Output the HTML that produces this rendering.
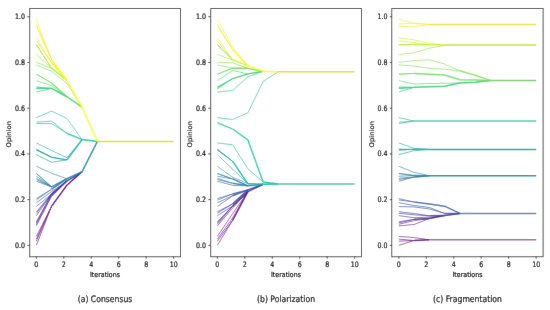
<!DOCTYPE html>
<html><head><meta charset="utf-8"><title>Opinion dynamics: consensus, polarization, fragmentation</title>
<style>
html,body{margin:0;padding:0;background:#fff;width:550px;height:310px;overflow:hidden}
svg{text-rendering:geometricPrecision;display:block}
.t{font-family:"DejaVu Sans","Liberation Sans",sans-serif;font-size:6.3px;fill:#000;stroke:#000;stroke-width:0.18px}
.cap{font-family:"DejaVu Sans","Liberation Sans",sans-serif;font-size:7.7px;fill:#000;stroke:#000;stroke-width:0.18px}
</style></head><body>
<svg width="550" height="310" viewBox="0 0 550 310">
<defs><filter id="sm" filterUnits="userSpaceOnUse" x="0" y="0" width="550" height="310"><feConvolveMatrix order="3" kernelMatrix="0 1 0 1 16 1 0 1 0" edgeMode="duplicate" preserveAlpha="false"/></filter></defs>
<rect width="550" height="310" fill="#fff"/>
<g filter="url(#sm)">
<rect width="550" height="310" fill="#fff"/>
<clipPath id="c0"><rect x="29.5" y="8.3" width="151.0" height="248.2"/></clipPath>
<g clip-path="url(#c0)" fill="none" stroke-width="1.0" stroke-linejoin="round" stroke-linecap="butt">
<polyline points="36.36,245.32 51.62,206.09" stroke="#60006a" stroke-opacity="0.60"/>
<polyline points="36.36,241.17 51.62,206.09" stroke="#640078" stroke-opacity="0.60"/>
<polyline points="36.36,239.09 51.62,206.09" stroke="#650285" stroke-opacity="0.60"/>
<polyline points="36.36,236.42 51.62,206.09" stroke="#610a89" stroke-opacity="0.60"/>
<polyline points="51.62,206.09 66.87,185.21 82.12,171.64" stroke="#600489" stroke-opacity="0.95" stroke-width="1.5"/>
<polyline points="36.36,225.91 51.62,195.82" stroke="#5e118e" stroke-opacity="0.60"/>
<polyline points="36.36,224.24 51.62,195.82" stroke="#591a93" stroke-opacity="0.60"/>
<polyline points="51.62,195.82 66.87,181.02" stroke="#561a94" stroke-opacity="0.84" stroke-width="1.5"/>
<polyline points="36.36,222.87 51.62,193.93" stroke="#552196" stroke-opacity="0.60"/>
<polyline points="36.36,221.75 51.62,193.93" stroke="#4e2798" stroke-opacity="0.60"/>
<polyline points="36.36,215.63 51.62,193.93" stroke="#472e98" stroke-opacity="0.60"/>
<polyline points="36.36,213.26 51.62,193.93" stroke="#3f3598" stroke-opacity="0.60"/>
<polyline points="36.36,211.80 51.62,193.93" stroke="#353898" stroke-opacity="0.60"/>
<polyline points="36.36,206.53 51.62,193.93" stroke="#324199" stroke-opacity="0.60"/>
<polyline points="51.62,193.93 66.87,181.02" stroke="#403fa0" stroke-opacity="0.95" stroke-width="1.5"/>
<polyline points="36.36,202.77 51.62,191.50 66.87,181.02" stroke="#2e4999" stroke-opacity="0.60"/>
<polyline points="66.87,181.02 82.12,171.64" stroke="#3d46a2" stroke-opacity="0.95" stroke-width="1.5"/>
<polyline points="36.36,200.06 51.62,189.19" stroke="#2b519a" stroke-opacity="0.60"/>
<polyline points="36.36,198.61 51.62,189.19" stroke="#275a9c" stroke-opacity="0.60"/>
<polyline points="51.62,189.19 66.87,178.76" stroke="#3360aa" stroke-opacity="0.84" stroke-width="1.5"/>
<polyline points="36.36,181.24 51.62,186.89" stroke="#24619d" stroke-opacity="0.60"/>
<polyline points="36.36,179.56 51.62,186.89" stroke="#21689e" stroke-opacity="0.60"/>
<polyline points="36.36,178.23 51.62,186.89" stroke="#1f6f9f" stroke-opacity="0.60"/>
<polyline points="36.36,176.24 51.62,186.89" stroke="#1c779f" stroke-opacity="0.60"/>
<polyline points="36.36,173.70 51.62,186.89" stroke="#197ea0" stroke-opacity="0.60"/>
<polyline points="36.36,173.22 51.62,186.89" stroke="#1785a0" stroke-opacity="0.60"/>
<polyline points="51.62,186.89 66.87,178.76" stroke="#2588b0" stroke-opacity="0.95" stroke-width="1.5"/>
<polyline points="36.36,166.35 51.62,173.25 66.87,178.76" stroke="#158ba0" stroke-opacity="0.60"/>
<polyline points="66.87,178.76 82.12,171.64" stroke="#238eb0" stroke-opacity="0.95" stroke-width="1.5"/>
<polyline points="82.12,171.64 97.37,141.39" stroke="#238db0" stroke-opacity="0.95" stroke-width="1.5"/>
<polyline points="36.36,154.65 51.62,162.29 66.87,159.87" stroke="#1392a0" stroke-opacity="0.60"/>
<polyline points="36.36,150.02 51.62,157.25" stroke="#119aa0" stroke-opacity="0.60"/>
<polyline points="36.36,149.95 51.62,157.25" stroke="#0ea1a0" stroke-opacity="0.60"/>
<polyline points="36.36,149.52 51.62,157.25" stroke="#0ca69e" stroke-opacity="0.60"/>
<polyline points="36.36,149.08 51.62,157.25" stroke="#0aac9c" stroke-opacity="0.60"/>
<polyline points="51.62,157.25 66.87,159.87" stroke="#15b7b0" stroke-opacity="0.95" stroke-width="1.5"/>
<polyline points="66.87,159.87 82.12,139.61" stroke="#16b5b0" stroke-opacity="0.95" stroke-width="1.5"/>
<polyline points="36.36,142.96 51.62,150.55 66.87,157.66 82.12,139.61" stroke="#08b398" stroke-opacity="0.60"/>
<polyline points="36.36,123.47 51.62,123.57 66.87,133.21" stroke="#08b895" stroke-opacity="0.60"/>
<polyline points="36.36,122.18 51.62,121.10 66.87,133.21" stroke="#0abd91" stroke-opacity="0.60"/>
<polyline points="66.87,133.21 82.12,139.61" stroke="#11cba2" stroke-opacity="0.84" stroke-width="1.5"/>
<polyline points="36.36,117.63 51.62,111.09 66.87,118.41 82.12,139.61" stroke="#0dc28c" stroke-opacity="0.60"/>
<polyline points="82.12,139.61 97.37,141.39" stroke="#14c9a1" stroke-opacity="0.95" stroke-width="1.5"/>
<polyline points="36.36,92.08 51.62,88.36" stroke="#12c786" stroke-opacity="0.60"/>
<polyline points="36.36,88.71 51.62,88.36" stroke="#1acc7e" stroke-opacity="0.60"/>
<polyline points="36.36,88.42 51.62,88.36" stroke="#22d076" stroke-opacity="0.60"/>
<polyline points="36.36,87.19 51.62,88.36" stroke="#2bd36e" stroke-opacity="0.60"/>
<polyline points="36.36,87.09 51.62,88.36" stroke="#35d665" stroke-opacity="0.60"/>
<polyline points="51.62,88.36 66.87,96.72" stroke="#3ad37d" stroke-opacity="0.95" stroke-width="1.5"/>
<polyline points="36.36,80.68 51.62,85.57 66.87,96.72" stroke="#42da59" stroke-opacity="0.60"/>
<polyline points="36.36,74.32 51.62,83.01" stroke="#4edc4e" stroke-opacity="0.60"/>
<polyline points="36.36,73.87 51.62,83.01" stroke="#5fe048" stroke-opacity="0.60"/>
<polyline points="51.62,83.01 66.87,96.72" stroke="#66dc5e" stroke-opacity="0.84" stroke-width="1.5"/>
<polyline points="66.87,96.72 82.12,107.21" stroke="#5ad867" stroke-opacity="0.95" stroke-width="1.5"/>
<polyline points="36.36,64.92 51.62,71.42 66.87,83.34 82.12,107.21" stroke="#70e341" stroke-opacity="0.60"/>
<polyline points="36.36,62.30 51.62,68.17" stroke="#81e639" stroke-opacity="0.60"/>
<polyline points="36.36,54.55 51.62,68.17" stroke="#94e930" stroke-opacity="0.60"/>
<polyline points="36.36,45.01 51.62,68.17" stroke="#a4ea29" stroke-opacity="0.60"/>
<polyline points="36.36,44.61 51.62,68.17" stroke="#b4eb22" stroke-opacity="0.60"/>
<polyline points="36.36,44.61 51.62,68.17" stroke="#c2eb1b" stroke-opacity="0.60"/>
<polyline points="51.62,68.17 66.87,80.29" stroke="#b4f132" stroke-opacity="0.95" stroke-width="1.5"/>
<polyline points="36.36,40.84 51.62,62.71" stroke="#d3ec14" stroke-opacity="0.60"/>
<polyline points="36.36,37.65 51.62,62.71" stroke="#dfeb11" stroke-opacity="0.60"/>
<polyline points="51.62,62.71 66.87,80.29" stroke="#e6fb17" stroke-opacity="0.84" stroke-width="1.5"/>
<polyline points="36.36,26.38 51.62,59.82" stroke="#eaea13" stroke-opacity="0.60"/>
<polyline points="36.36,24.01 51.62,59.82" stroke="#f4e81a" stroke-opacity="0.60"/>
<polyline points="36.36,19.30 51.62,59.82" stroke="#fde725" stroke-opacity="0.60"/>
<polyline points="51.62,59.82 66.87,80.29" stroke="#fff422" stroke-opacity="0.94" stroke-width="1.5"/>
<polyline points="66.87,80.29 82.12,107.21" stroke="#fffc1d" stroke-opacity="0.95" stroke-width="1.5"/>
<polyline points="82.12,107.21 97.37,141.39" stroke="#fefc1d" stroke-opacity="0.95" stroke-width="1.5"/>
<polyline points="97.37,141.39 112.63,141.39 127.88,141.39 143.13,141.39 158.38,141.39 173.64,141.39" stroke="#d7e11c" stroke-opacity="0.95" stroke-width="1.5"/>
</g>
<rect x="29.75" y="8.5" width="150.8" height="248.29999999999998" fill="none" stroke="#2a2a2a" stroke-width="0.8"/>
<line x1="36.36" y1="256.5" x2="36.36" y2="258.7" stroke="#2a2a2a" stroke-width="0.8"/>
<text transform="translate(36.36,267.10) scale(1,1.2)" text-anchor="middle" class="t">0</text>
<line x1="63.82" y1="256.5" x2="63.82" y2="258.7" stroke="#2a2a2a" stroke-width="0.8"/>
<text transform="translate(63.82,267.10) scale(1,1.2)" text-anchor="middle" class="t">2</text>
<line x1="91.27" y1="256.5" x2="91.27" y2="258.7" stroke="#2a2a2a" stroke-width="0.8"/>
<text transform="translate(91.27,267.10) scale(1,1.2)" text-anchor="middle" class="t">4</text>
<line x1="118.73" y1="256.5" x2="118.73" y2="258.7" stroke="#2a2a2a" stroke-width="0.8"/>
<text transform="translate(118.73,267.10) scale(1,1.2)" text-anchor="middle" class="t">6</text>
<line x1="146.18" y1="256.5" x2="146.18" y2="258.7" stroke="#2a2a2a" stroke-width="0.8"/>
<text transform="translate(146.18,267.10) scale(1,1.2)" text-anchor="middle" class="t">8</text>
<line x1="173.64" y1="256.5" x2="173.64" y2="258.7" stroke="#2a2a2a" stroke-width="0.8"/>
<text transform="translate(173.64,267.10) scale(1,1.2)" text-anchor="middle" class="t">10</text>
<line x1="27.3" y1="245.35" x2="29.5" y2="245.35" stroke="#2a2a2a" stroke-width="0.8"/>
<text transform="translate(24.90,247.80) scale(1,1.2)" text-anchor="end" class="t">0.0</text>
<line x1="27.3" y1="199.63" x2="29.5" y2="199.63" stroke="#2a2a2a" stroke-width="0.8"/>
<text transform="translate(24.90,202.08) scale(1,1.2)" text-anchor="end" class="t">0.2</text>
<line x1="27.3" y1="153.91" x2="29.5" y2="153.91" stroke="#2a2a2a" stroke-width="0.8"/>
<text transform="translate(24.90,156.36) scale(1,1.2)" text-anchor="end" class="t">0.4</text>
<line x1="27.3" y1="108.19" x2="29.5" y2="108.19" stroke="#2a2a2a" stroke-width="0.8"/>
<text transform="translate(24.90,110.64) scale(1,1.2)" text-anchor="end" class="t">0.6</text>
<line x1="27.3" y1="62.47" x2="29.5" y2="62.47" stroke="#2a2a2a" stroke-width="0.8"/>
<text transform="translate(24.90,64.92) scale(1,1.2)" text-anchor="end" class="t">0.8</text>
<line x1="27.3" y1="16.75" x2="29.5" y2="16.75" stroke="#2a2a2a" stroke-width="0.8"/>
<text transform="translate(24.90,19.20) scale(1,1.2)" text-anchor="end" class="t">1.0</text>
<text transform="translate(105.00,276.70) scale(1,1.12)" text-anchor="middle" class="t">Iterations</text>
<text transform="translate(11.20,134.20) scale(1,1.09) rotate(-90)" text-anchor="middle" class="t">Opinion</text>
<text transform="translate(105.00,302.40) scale(1,1.15)" text-anchor="middle" class="cap">(a) Consensus</text>
<clipPath id="c1"><rect x="210.5" y="8.3" width="151.0" height="248.2"/></clipPath>
<g clip-path="url(#c1)" fill="none" stroke-width="1.0" stroke-linejoin="round" stroke-linecap="butt">
<polyline points="217.36,245.32 232.62,220.36" stroke="#60006a" stroke-opacity="0.60"/>
<polyline points="217.36,241.17 232.62,220.36" stroke="#640078" stroke-opacity="0.60"/>
<polyline points="232.62,220.36 247.87,191.57" stroke="#61007c" stroke-opacity="0.84" stroke-width="1.5"/>
<polyline points="217.36,239.09 232.62,217.92 247.87,191.57" stroke="#650285" stroke-opacity="0.60"/>
<polyline points="217.36,236.42 232.62,213.58 247.87,191.57" stroke="#610a89" stroke-opacity="0.60"/>
<polyline points="217.36,225.91 232.62,207.98 247.87,191.57" stroke="#5e118e" stroke-opacity="0.60"/>
<polyline points="217.36,224.24 232.62,206.09" stroke="#591a93" stroke-opacity="0.60"/>
<polyline points="217.36,222.87 232.62,206.09" stroke="#552196" stroke-opacity="0.60"/>
<polyline points="217.36,221.75 232.62,206.09" stroke="#4e2798" stroke-opacity="0.60"/>
<polyline points="217.36,215.63 232.62,206.09" stroke="#472e98" stroke-opacity="0.60"/>
<polyline points="232.62,206.09 247.87,191.57" stroke="#4d2c9b" stroke-opacity="0.95" stroke-width="1.5"/>
<polyline points="247.87,191.57 263.12,184.31" stroke="#4e2899" stroke-opacity="0.95" stroke-width="1.5"/>
<polyline points="217.36,213.26 232.62,203.85" stroke="#3f3598" stroke-opacity="0.60"/>
<polyline points="217.36,211.80 232.62,203.85" stroke="#353898" stroke-opacity="0.60"/>
<polyline points="232.62,203.85 247.87,189.89" stroke="#403fa1" stroke-opacity="0.84" stroke-width="1.5"/>
<polyline points="217.36,206.53 232.62,195.82" stroke="#324199" stroke-opacity="0.60"/>
<polyline points="217.36,202.77 232.62,195.82" stroke="#2e4999" stroke-opacity="0.60"/>
<polyline points="232.62,195.82 247.87,189.89" stroke="#3a4fa6" stroke-opacity="0.84" stroke-width="1.5"/>
<polyline points="217.36,200.06 232.62,193.93" stroke="#2b519a" stroke-opacity="0.60"/>
<polyline points="217.36,198.61 232.62,193.93" stroke="#275a9c" stroke-opacity="0.60"/>
<polyline points="232.62,193.93 247.87,189.89" stroke="#3360aa" stroke-opacity="0.84" stroke-width="1.5"/>
<polyline points="247.87,189.89 263.12,184.31" stroke="#3758a8" stroke-opacity="0.95" stroke-width="1.5"/>
<polyline points="217.36,181.24 232.62,185.33 247.87,185.84" stroke="#24619d" stroke-opacity="0.60"/>
<polyline points="217.36,179.56 232.62,183.34" stroke="#21689e" stroke-opacity="0.60"/>
<polyline points="217.36,178.23 232.62,183.34" stroke="#1f6f9f" stroke-opacity="0.60"/>
<polyline points="232.62,183.34 247.87,185.84" stroke="#2a78ae" stroke-opacity="0.84" stroke-width="1.5"/>
<polyline points="217.36,176.24 232.62,178.94" stroke="#1c779f" stroke-opacity="0.60"/>
<polyline points="217.36,173.70 232.62,178.94" stroke="#197ea0" stroke-opacity="0.60"/>
<polyline points="217.36,173.22 232.62,178.94" stroke="#1785a0" stroke-opacity="0.60"/>
<polyline points="232.62,178.94 247.87,185.84" stroke="#238cb0" stroke-opacity="0.94" stroke-width="1.5"/>
<polyline points="247.87,185.84 263.12,184.31" stroke="#2588b0" stroke-opacity="0.95" stroke-width="1.5"/>
<polyline points="217.36,166.35 232.62,177.14 247.87,183.70" stroke="#158ba0" stroke-opacity="0.60"/>
<polyline points="217.36,154.65 232.62,169.14 247.87,183.70" stroke="#1392a0" stroke-opacity="0.60"/>
<polyline points="217.36,150.02 232.62,161.34" stroke="#119aa0" stroke-opacity="0.60"/>
<polyline points="217.36,149.95 232.62,161.34" stroke="#0ea1a0" stroke-opacity="0.60"/>
<polyline points="217.36,149.52 232.62,161.34" stroke="#0ca69e" stroke-opacity="0.60"/>
<polyline points="217.36,149.08 232.62,161.34" stroke="#0aac9c" stroke-opacity="0.60"/>
<polyline points="232.62,161.34 247.87,183.70" stroke="#15b7b0" stroke-opacity="0.95" stroke-width="1.5"/>
<polyline points="247.87,183.70 263.12,184.31" stroke="#16b5b0" stroke-opacity="0.95" stroke-width="1.5"/>
<polyline points="263.12,184.31 278.37,184.08" stroke="#17b3b1" stroke-opacity="0.95" stroke-width="1.5"/>
<polyline points="217.36,142.96 232.62,144.79 247.87,168.72 263.12,182.00" stroke="#08b398" stroke-opacity="0.60"/>
<polyline points="217.36,123.47 232.62,129.01" stroke="#08b895" stroke-opacity="0.60"/>
<polyline points="217.36,122.18 232.62,129.01" stroke="#0abd91" stroke-opacity="0.60"/>
<polyline points="232.62,129.01 247.87,139.93 263.12,182.00" stroke="#11cba2" stroke-opacity="0.84" stroke-width="1.5"/>
<polyline points="263.12,182.00 278.37,184.08" stroke="#11c9a4" stroke-opacity="0.94" stroke-width="1.5"/>
<polyline points="278.37,184.08 293.63,184.08 308.88,184.08 324.13,184.08 339.38,184.08 354.64,184.08" stroke="#46c3af" stroke-opacity="0.95" stroke-width="1.5"/>
<polyline points="217.36,117.63 232.62,119.50 247.87,112.84 263.12,81.41 278.37,71.70" stroke="#0dc28c" stroke-opacity="0.60"/>
<polyline points="217.36,92.08 232.62,90.49 247.87,76.96 263.12,71.19" stroke="#12c786" stroke-opacity="0.60"/>
<polyline points="217.36,88.71 232.62,78.65" stroke="#1acc7e" stroke-opacity="0.60"/>
<polyline points="217.36,88.42 232.62,78.65" stroke="#22d076" stroke-opacity="0.60"/>
<polyline points="217.36,87.19 232.62,78.65" stroke="#2bd36e" stroke-opacity="0.60"/>
<polyline points="217.36,87.09 232.62,78.65" stroke="#35d665" stroke-opacity="0.60"/>
<polyline points="232.62,78.65 247.87,73.88" stroke="#3cd37c" stroke-opacity="0.95" stroke-width="1.5"/>
<polyline points="217.36,80.68 232.62,70.50 247.87,73.88" stroke="#42da59" stroke-opacity="0.60"/>
<polyline points="247.87,73.88 263.12,71.19" stroke="#47d276" stroke-opacity="0.95" stroke-width="1.5"/>
<polyline points="217.36,74.32 232.62,68.17" stroke="#4edc4e" stroke-opacity="0.60"/>
<polyline points="217.36,73.87 232.62,68.17" stroke="#5fe048" stroke-opacity="0.60"/>
<polyline points="217.36,64.92 232.62,68.17" stroke="#70e341" stroke-opacity="0.60"/>
<polyline points="232.62,68.17 247.87,68.37" stroke="#6dde5a" stroke-opacity="0.94" stroke-width="1.5"/>
<polyline points="217.36,62.30 232.62,62.71 247.87,68.37" stroke="#81e639" stroke-opacity="0.60"/>
<polyline points="247.87,68.37 263.12,71.19" stroke="#78e154" stroke-opacity="0.95" stroke-width="1.5"/>
<polyline points="217.36,54.55 232.62,59.82" stroke="#94e930" stroke-opacity="0.60"/>
<polyline points="217.36,45.01 232.62,59.82" stroke="#a4ea29" stroke-opacity="0.60"/>
<polyline points="217.36,44.61 232.62,59.82" stroke="#b4eb22" stroke-opacity="0.60"/>
<polyline points="217.36,44.61 232.62,59.82" stroke="#c2eb1b" stroke-opacity="0.60"/>
<polyline points="217.36,40.84 232.62,59.82" stroke="#d3ec14" stroke-opacity="0.60"/>
<polyline points="217.36,37.65 232.62,59.82" stroke="#dfeb11" stroke-opacity="0.60"/>
<polyline points="232.62,59.82 247.87,65.68" stroke="#d4f722" stroke-opacity="0.95" stroke-width="1.5"/>
<polyline points="217.36,26.38 232.62,49.50" stroke="#eaea13" stroke-opacity="0.60"/>
<polyline points="217.36,24.01 232.62,49.50" stroke="#f4e81a" stroke-opacity="0.60"/>
<polyline points="232.62,49.50 247.87,65.68" stroke="#fffa18" stroke-opacity="0.84" stroke-width="1.5"/>
<polyline points="217.36,19.30 232.62,47.10 247.87,65.68" stroke="#fde725" stroke-opacity="0.60"/>
<polyline points="247.87,65.68 263.12,71.19" stroke="#fffc1c" stroke-opacity="0.95" stroke-width="1.5"/>
<polyline points="263.12,71.19 278.37,71.70" stroke="#fefc1d" stroke-opacity="0.95" stroke-width="1.5"/>
<polyline points="278.37,71.70 293.63,71.70 308.88,71.70 324.13,71.70 339.38,71.70 354.64,71.70" stroke="#dae223" stroke-opacity="0.95" stroke-width="1.5"/>
</g>
<rect x="210.75" y="8.5" width="150.8" height="248.29999999999998" fill="none" stroke="#2a2a2a" stroke-width="0.8"/>
<line x1="217.36" y1="256.5" x2="217.36" y2="258.7" stroke="#2a2a2a" stroke-width="0.8"/>
<text transform="translate(217.36,267.10) scale(1,1.2)" text-anchor="middle" class="t">0</text>
<line x1="244.82" y1="256.5" x2="244.82" y2="258.7" stroke="#2a2a2a" stroke-width="0.8"/>
<text transform="translate(244.82,267.10) scale(1,1.2)" text-anchor="middle" class="t">2</text>
<line x1="272.27" y1="256.5" x2="272.27" y2="258.7" stroke="#2a2a2a" stroke-width="0.8"/>
<text transform="translate(272.27,267.10) scale(1,1.2)" text-anchor="middle" class="t">4</text>
<line x1="299.73" y1="256.5" x2="299.73" y2="258.7" stroke="#2a2a2a" stroke-width="0.8"/>
<text transform="translate(299.73,267.10) scale(1,1.2)" text-anchor="middle" class="t">6</text>
<line x1="327.18" y1="256.5" x2="327.18" y2="258.7" stroke="#2a2a2a" stroke-width="0.8"/>
<text transform="translate(327.18,267.10) scale(1,1.2)" text-anchor="middle" class="t">8</text>
<line x1="354.64" y1="256.5" x2="354.64" y2="258.7" stroke="#2a2a2a" stroke-width="0.8"/>
<text transform="translate(354.64,267.10) scale(1,1.2)" text-anchor="middle" class="t">10</text>
<line x1="208.3" y1="245.35" x2="210.5" y2="245.35" stroke="#2a2a2a" stroke-width="0.8"/>
<text transform="translate(205.90,247.80) scale(1,1.2)" text-anchor="end" class="t">0.0</text>
<line x1="208.3" y1="199.63" x2="210.5" y2="199.63" stroke="#2a2a2a" stroke-width="0.8"/>
<text transform="translate(205.90,202.08) scale(1,1.2)" text-anchor="end" class="t">0.2</text>
<line x1="208.3" y1="153.91" x2="210.5" y2="153.91" stroke="#2a2a2a" stroke-width="0.8"/>
<text transform="translate(205.90,156.36) scale(1,1.2)" text-anchor="end" class="t">0.4</text>
<line x1="208.3" y1="108.19" x2="210.5" y2="108.19" stroke="#2a2a2a" stroke-width="0.8"/>
<text transform="translate(205.90,110.64) scale(1,1.2)" text-anchor="end" class="t">0.6</text>
<line x1="208.3" y1="62.47" x2="210.5" y2="62.47" stroke="#2a2a2a" stroke-width="0.8"/>
<text transform="translate(205.90,64.92) scale(1,1.2)" text-anchor="end" class="t">0.8</text>
<line x1="208.3" y1="16.75" x2="210.5" y2="16.75" stroke="#2a2a2a" stroke-width="0.8"/>
<text transform="translate(205.90,19.20) scale(1,1.2)" text-anchor="end" class="t">1.0</text>
<text transform="translate(286.00,276.70) scale(1,1.12)" text-anchor="middle" class="t">Iterations</text>
<text transform="translate(192.20,134.20) scale(1,1.09) rotate(-90)" text-anchor="middle" class="t">Opinion</text>
<text transform="translate(286.00,302.40) scale(1,1.15)" text-anchor="middle" class="cap">(b) Polarization</text>
<clipPath id="c2"><rect x="392.0" y="8.3" width="151.0" height="248.2"/></clipPath>
<g clip-path="url(#c2)" fill="none" stroke-width="1.0" stroke-linejoin="round" stroke-linecap="butt">
<polyline points="398.86,245.32 414.12,240.50" stroke="#60006a" stroke-opacity="0.60"/>
<polyline points="398.86,241.17 414.12,240.50" stroke="#640078" stroke-opacity="0.60"/>
<polyline points="398.86,239.09 414.12,240.50" stroke="#650285" stroke-opacity="0.60"/>
<polyline points="414.12,240.50 429.37,239.77" stroke="#620084" stroke-opacity="0.94" stroke-width="1.5"/>
<polyline points="398.86,236.42 414.12,237.58 429.37,239.77" stroke="#610a89" stroke-opacity="0.60"/>
<polyline points="429.37,239.77 444.62,239.77 459.87,239.77 475.13,239.77 490.38,239.77 505.63,239.77 520.88,239.77 536.14,239.77" stroke="#9664aa" stroke-opacity="0.95" stroke-width="1.5"/>
<polyline points="398.86,225.91 414.12,224.47 429.37,218.56" stroke="#5e118e" stroke-opacity="0.60"/>
<polyline points="398.86,224.24 414.12,220.61 429.37,218.56" stroke="#591a93" stroke-opacity="0.60"/>
<polyline points="398.86,222.87 414.12,219.35" stroke="#552196" stroke-opacity="0.60"/>
<polyline points="398.86,221.75 414.12,219.35" stroke="#4e2798" stroke-opacity="0.60"/>
<polyline points="414.12,219.35 429.37,218.56" stroke="#4e2a9b" stroke-opacity="0.84" stroke-width="1.5"/>
<polyline points="429.37,218.56 444.62,215.49" stroke="#512498" stroke-opacity="0.95" stroke-width="1.5"/>
<polyline points="398.86,215.63 414.12,217.75 429.37,217.11 444.62,215.49" stroke="#472e98" stroke-opacity="0.60"/>
<polyline points="398.86,213.26 414.12,214.86 429.37,215.82" stroke="#3f3598" stroke-opacity="0.60"/>
<polyline points="398.86,211.80 414.12,213.51 429.37,215.82" stroke="#353898" stroke-opacity="0.60"/>
<polyline points="429.37,215.82 444.62,215.49" stroke="#403fa1" stroke-opacity="0.84" stroke-width="1.5"/>
<polyline points="444.62,215.49 459.87,213.41" stroke="#45389e" stroke-opacity="0.95" stroke-width="1.5"/>
<polyline points="398.86,206.53 414.12,206.95 429.37,208.94 444.62,213.42" stroke="#324199" stroke-opacity="0.60"/>
<polyline points="398.86,202.77 414.12,205.51 429.37,207.47 444.62,213.42" stroke="#2e4999" stroke-opacity="0.60"/>
<polyline points="444.62,213.42 459.87,213.41" stroke="#3a4fa6" stroke-opacity="0.84" stroke-width="1.5"/>
<polyline points="398.86,200.06 414.12,201.99" stroke="#2b519a" stroke-opacity="0.60"/>
<polyline points="398.86,198.61 414.12,201.99" stroke="#275a9c" stroke-opacity="0.60"/>
<polyline points="414.12,201.99 429.37,204.11 444.62,206.16 459.87,213.41" stroke="#3360aa" stroke-opacity="0.84" stroke-width="1.5"/>
<polyline points="459.87,213.41 475.13,213.41 490.38,213.41 505.63,213.41 520.88,213.41 536.14,213.41" stroke="#5a82b9" stroke-opacity="0.95" stroke-width="1.5"/>
<polyline points="398.86,181.24 414.12,177.03" stroke="#24619d" stroke-opacity="0.60"/>
<polyline points="398.86,179.56 414.12,177.03" stroke="#21689e" stroke-opacity="0.60"/>
<polyline points="398.86,178.23 414.12,177.03" stroke="#1f6f9f" stroke-opacity="0.60"/>
<polyline points="414.12,177.03 429.37,175.71" stroke="#2b75ad" stroke-opacity="0.94" stroke-width="1.5"/>
<polyline points="398.86,176.24 414.12,175.51" stroke="#1c779f" stroke-opacity="0.60"/>
<polyline points="398.86,173.70 414.12,175.51" stroke="#197ea0" stroke-opacity="0.60"/>
<polyline points="398.86,173.22 414.12,175.51" stroke="#1785a0" stroke-opacity="0.60"/>
<polyline points="414.12,175.51 429.37,175.71" stroke="#238cb0" stroke-opacity="0.94" stroke-width="1.5"/>
<polyline points="398.86,166.35 414.12,172.38 429.37,175.71" stroke="#158ba0" stroke-opacity="0.60"/>
<polyline points="429.37,175.71 444.62,175.71 459.87,175.71 475.13,175.71 490.38,175.71 505.63,175.71 520.88,175.71 536.14,175.71" stroke="#198c9b" stroke-opacity="0.95" stroke-width="1.5"/>
<polyline points="398.86,154.65 414.12,150.65 429.37,149.40" stroke="#1392a0" stroke-opacity="0.60"/>
<polyline points="398.86,150.02 414.12,149.37" stroke="#119aa0" stroke-opacity="0.60"/>
<polyline points="398.86,149.95 414.12,149.37" stroke="#0ea1a0" stroke-opacity="0.60"/>
<polyline points="398.86,149.52 414.12,149.37" stroke="#0ca69e" stroke-opacity="0.60"/>
<polyline points="398.86,149.08 414.12,149.37" stroke="#0aac9c" stroke-opacity="0.60"/>
<polyline points="414.12,149.37 429.37,149.40" stroke="#15b7b0" stroke-opacity="0.95" stroke-width="1.5"/>
<polyline points="398.86,142.96 414.12,148.31 429.37,149.40" stroke="#08b398" stroke-opacity="0.60"/>
<polyline points="429.37,149.40 444.62,149.40 459.87,149.40 475.13,149.40 490.38,149.40 505.63,149.40 520.88,149.40 536.14,149.40" stroke="#14a0a0" stroke-opacity="0.95" stroke-width="1.5"/>
<polyline points="398.86,123.47 414.12,121.09" stroke="#08b895" stroke-opacity="0.60"/>
<polyline points="398.86,122.18 414.12,121.09" stroke="#0abd91" stroke-opacity="0.60"/>
<polyline points="398.86,117.63 414.12,121.09" stroke="#0dc28c" stroke-opacity="0.60"/>
<polyline points="414.12,121.09 429.37,121.09 444.62,121.09 459.87,121.09 475.13,121.09 490.38,121.09 505.63,121.09 520.88,121.09 536.14,121.09" stroke="#50c8aa" stroke-opacity="0.94" stroke-width="1.5"/>
<polyline points="398.86,92.08 414.12,87.36" stroke="#12c786" stroke-opacity="0.60"/>
<polyline points="398.86,88.71 414.12,87.36" stroke="#1acc7e" stroke-opacity="0.60"/>
<polyline points="398.86,88.42 414.12,87.36" stroke="#22d076" stroke-opacity="0.60"/>
<polyline points="398.86,87.19 414.12,87.36" stroke="#2bd36e" stroke-opacity="0.60"/>
<polyline points="398.86,87.09 414.12,87.36" stroke="#35d665" stroke-opacity="0.60"/>
<polyline points="414.12,87.36 429.37,86.81 444.62,86.25 459.87,83.08" stroke="#3ad37d" stroke-opacity="0.95" stroke-width="1.5"/>
<polyline points="398.86,80.68 414.12,84.04 429.37,83.47 444.62,83.25 459.87,83.08" stroke="#42da59" stroke-opacity="0.60"/>
<polyline points="459.87,83.08 475.13,82.26 490.38,80.41" stroke="#46d277" stroke-opacity="0.95" stroke-width="1.5"/>
<polyline points="398.86,74.32 414.12,73.45" stroke="#4edc4e" stroke-opacity="0.60"/>
<polyline points="398.86,73.87 414.12,73.45" stroke="#5fe048" stroke-opacity="0.60"/>
<polyline points="414.12,73.45 429.37,74.23 444.62,75.08 459.87,79.79 475.13,79.97 490.38,80.41" stroke="#66dc5e" stroke-opacity="0.84" stroke-width="1.5"/>
<polyline points="398.86,64.92 414.12,65.99 429.37,68.37 444.62,69.15 459.87,70.84" stroke="#70e341" stroke-opacity="0.60"/>
<polyline points="398.86,62.30 414.12,60.59 429.37,59.75 444.62,64.06 459.87,70.84" stroke="#81e639" stroke-opacity="0.60"/>
<polyline points="459.87,70.84 475.13,75.31 490.38,80.41" stroke="#81e44f" stroke-opacity="0.84" stroke-width="1.5"/>
<polyline points="490.38,80.41 505.63,80.41 520.88,80.41 536.14,80.41" stroke="#78cd6e" stroke-opacity="0.95" stroke-width="1.5"/>
<polyline points="398.86,54.55 414.12,52.67 429.37,48.24 444.62,45.10" stroke="#94e930" stroke-opacity="0.60"/>
<polyline points="398.86,45.01 414.12,44.54" stroke="#a4ea29" stroke-opacity="0.60"/>
<polyline points="398.86,44.61 414.12,44.54" stroke="#b4eb22" stroke-opacity="0.60"/>
<polyline points="398.86,44.61 414.12,44.54" stroke="#c2eb1b" stroke-opacity="0.60"/>
<polyline points="414.12,44.54 429.37,44.78" stroke="#bbf22e" stroke-opacity="0.94" stroke-width="1.5"/>
<polyline points="398.86,40.84 414.12,42.54 429.37,44.78" stroke="#d3ec14" stroke-opacity="0.60"/>
<polyline points="429.37,44.78 444.62,45.10" stroke="#c8f527" stroke-opacity="0.95" stroke-width="1.5"/>
<polyline points="398.86,37.65 414.12,39.85 429.37,43.21 444.62,45.10" stroke="#dfeb11" stroke-opacity="0.60"/>
<polyline points="444.62,45.10 459.87,45.10 475.13,45.10 490.38,45.10 505.63,45.10 520.88,45.10 536.14,45.10" stroke="#c3e132" stroke-opacity="0.95" stroke-width="1.5"/>
<polyline points="398.86,26.38 414.12,26.83 429.37,24.43" stroke="#eaea13" stroke-opacity="0.60"/>
<polyline points="398.86,24.01 414.12,23.23" stroke="#f4e81a" stroke-opacity="0.60"/>
<polyline points="398.86,19.30 414.12,23.23" stroke="#fde725" stroke-opacity="0.60"/>
<polyline points="414.12,23.23 429.37,24.43" stroke="#fff029" stroke-opacity="0.84" stroke-width="1.5"/>
<polyline points="429.37,24.43 444.62,24.43 459.87,24.43 475.13,24.43 490.38,24.43 505.63,24.43 520.88,24.43 536.14,24.43" stroke="#f0e132" stroke-opacity="0.94" stroke-width="1.5"/>
</g>
<rect x="391.8" y="8.5" width="151.3" height="248.29999999999998" fill="none" stroke="#2a2a2a" stroke-width="0.8"/>
<line x1="398.86" y1="256.5" x2="398.86" y2="258.7" stroke="#2a2a2a" stroke-width="0.8"/>
<text transform="translate(398.86,267.10) scale(1,1.2)" text-anchor="middle" class="t">0</text>
<line x1="426.32" y1="256.5" x2="426.32" y2="258.7" stroke="#2a2a2a" stroke-width="0.8"/>
<text transform="translate(426.32,267.10) scale(1,1.2)" text-anchor="middle" class="t">2</text>
<line x1="453.77" y1="256.5" x2="453.77" y2="258.7" stroke="#2a2a2a" stroke-width="0.8"/>
<text transform="translate(453.77,267.10) scale(1,1.2)" text-anchor="middle" class="t">4</text>
<line x1="481.23" y1="256.5" x2="481.23" y2="258.7" stroke="#2a2a2a" stroke-width="0.8"/>
<text transform="translate(481.23,267.10) scale(1,1.2)" text-anchor="middle" class="t">6</text>
<line x1="508.68" y1="256.5" x2="508.68" y2="258.7" stroke="#2a2a2a" stroke-width="0.8"/>
<text transform="translate(508.68,267.10) scale(1,1.2)" text-anchor="middle" class="t">8</text>
<line x1="536.14" y1="256.5" x2="536.14" y2="258.7" stroke="#2a2a2a" stroke-width="0.8"/>
<text transform="translate(536.14,267.10) scale(1,1.2)" text-anchor="middle" class="t">10</text>
<line x1="389.8" y1="245.35" x2="392.0" y2="245.35" stroke="#2a2a2a" stroke-width="0.8"/>
<text transform="translate(387.40,247.80) scale(1,1.2)" text-anchor="end" class="t">0.0</text>
<line x1="389.8" y1="199.63" x2="392.0" y2="199.63" stroke="#2a2a2a" stroke-width="0.8"/>
<text transform="translate(387.40,202.08) scale(1,1.2)" text-anchor="end" class="t">0.2</text>
<line x1="389.8" y1="153.91" x2="392.0" y2="153.91" stroke="#2a2a2a" stroke-width="0.8"/>
<text transform="translate(387.40,156.36) scale(1,1.2)" text-anchor="end" class="t">0.4</text>
<line x1="389.8" y1="108.19" x2="392.0" y2="108.19" stroke="#2a2a2a" stroke-width="0.8"/>
<text transform="translate(387.40,110.64) scale(1,1.2)" text-anchor="end" class="t">0.6</text>
<line x1="389.8" y1="62.47" x2="392.0" y2="62.47" stroke="#2a2a2a" stroke-width="0.8"/>
<text transform="translate(387.40,64.92) scale(1,1.2)" text-anchor="end" class="t">0.8</text>
<line x1="389.8" y1="16.75" x2="392.0" y2="16.75" stroke="#2a2a2a" stroke-width="0.8"/>
<text transform="translate(387.40,19.20) scale(1,1.2)" text-anchor="end" class="t">1.0</text>
<text transform="translate(467.50,276.70) scale(1,1.12)" text-anchor="middle" class="t">Iterations</text>
<text transform="translate(373.70,134.20) scale(1,1.09) rotate(-90)" text-anchor="middle" class="t">Opinion</text>
<text transform="translate(467.50,302.40) scale(1,1.15)" text-anchor="middle" class="cap">(c) Fragmentation</text>
</g>
</svg>
</body></html>
